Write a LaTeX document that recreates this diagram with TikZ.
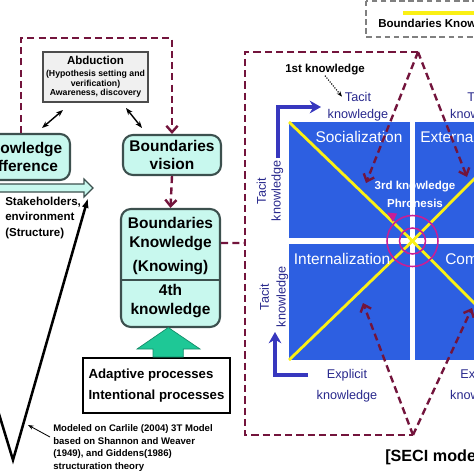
\documentclass[tikz,border=0pt]{standalone}
\usepackage{fontspec}
\setmainfont{Liberation Sans}
\usetikzlibrary{arrows.meta}
\definecolor{boxfill}{RGB}{200,248,238}
\definecolor{boxline}{RGB}{60,80,78}
\definecolor{maroon}{RGB}{115,20,60}
\definecolor{seciblue}{RGB}{45,95,225}
\definecolor{axisblue}{RGB}{55,55,190}
\definecolor{labelblue}{RGB}{40,40,140}
\definecolor{boundyellow}{RGB}{250,240,20}
\definecolor{ringpink}{RGB}{200,30,150}
\definecolor{arrowgreen}{RGB}{30,200,150}
\definecolor{abdfill}{RGB}{240,240,240}
\newcommand{\fsz}[2]{\fontsize{#1}{#2}\selectfont}

\begin{document}
\begin{tikzpicture}[x=0.025cm, y=-0.025cm,
	kbox/.style={draw=boxline, line width=1.5pt, fill=boxfill, rounded corners=0.25cm, inner sep=0pt, align=center, font=\bfseries\fsz{11}{12.8}},
	abdbox/.style={draw=gray!60!black, line width=1.1pt, fill=abdfill, inner sep=0pt, align=center, font=\bfseries\fsz{6.2}{6.9}},
	mdash/.style={draw=maroon, line width=1.7pt, dash pattern=on 5pt off 3pt},
	mtip/.style={-{Straight Barb[length=4.5pt,width=8pt]}},
	axis/.style={draw=axisblue, line width=2.8pt, -{Stealth[length=8pt,width=9pt]}},
	axislabel/.style={text=labelblue, font=\fsz{9}{12}, align=center, inner sep=0pt},
	quadlabel/.style={text=white, font=\fsz{11}{13}, inner sep=0pt},
	bktext/.style={font=\bfseries\fsz{11}{13.5}, align=center, inner sep=0pt}]
			%%%%% START %%%%%
			
			\useasboundingbox (0,0) rectangle (474,474);
			\clip (0,0) rectangle (474,474);
			
			\draw[draw=gray, line width=1.2pt, dash pattern=on 4pt off 2.5pt] (366,0.8) rectangle (500,37);
			\draw[boundyellow, line width=2.2pt] (403,13) -- (480,13);
			\node[anchor=west, font=\bfseries\fsz{8.2}{9}, inner sep=0pt] (legend) at (378,25) {Boundaries Knowledge};
			
			\fill[seciblue] (289,122) rectangle (410,238);
			\fill[seciblue] (415,122) rectangle (480,238);
			\fill[seciblue] (289,244) rectangle (410,360);
			\fill[seciblue] (415,244) rectangle (480,360);
			
			\coordinate (mid) at (412.5,241);
			\draw[boundyellow, line width=2pt] (289,122) -- (mid) -- (289,360);
			\draw[boundyellow, line width=2pt] (480,173) -- (mid) -- (480,309);
			\draw[ringpink, line width=1.1pt] (mid) circle (0.6375cm);
			\draw[ringpink, line width=1.1pt] (mid) circle (0.325cm);
			\fill[ringpink] (387,212.5) -- (397,213.5) -- (393,222) -- cycle;
			
			\node[quadlabel] (soc) at (359,137) {Socialization};
			\node[quadlabel, anchor=west] (ext) at (420,137) {Externalization};
			\node[quadlabel] (int) at (342,259) {Internalization};
			\node[quadlabel, anchor=west] (com) at (445,259) {Combination};
			\node[text=white, font=\bfseries\fsz{8.2}{12.7}, align=center, inner sep=0pt] (third) at (415,194) {3rd knowledge\\Phronesis};
			
			\draw[axis] (278,158) -- (278,107) -- (321,107);
			\draw[axis] (308,375) -- (275,375) -- (275,332);
			
			\node[axislabel] (tacita) at (358,106.5) {Tacit\\knowledge};
			\node[axislabel] (tacitb) at (480.5,106.5) {Tacit\\knowledge};
			\node[axislabel, rotate=90, font=\fsz{9}{10.6}] (tacitc) at (270,191) {Tacit\\knowledge};
			\node[axislabel, rotate=90] (tacitd) at (274,297) {Tacit\\knowledge};
			\node[axislabel, font=\fsz{9}{15}] (expa) at (347,385.5) {Explicit\\knowledge};
			\node[axislabel, font=\fsz{9}{15}] (expb) at (480.5,385.5) {Explicit\\knowledge};
			
			\node[font=\bfseries\fsz{8.2}{10}, inner sep=0pt] (first) at (325,70) {1st knowledge};
			\draw[densely dotted, line width=0.8pt, -{Stealth[length=4pt]}] (first.south) -- ([xshift=-0.4cm,yshift=-0.12cm]tacita.north);
			
			\node[anchor=west, font=\bfseries\fsz{11.5}{13}, inner sep=0pt] (seci) at (385,457) {[SECI model]};
			
			\coordinate (ftop) at (418,52);
			\coordinate (fbot) at (413,435);
			\coordinate (fjoin) at (245,243);
			\draw[mdash] (ftop) -- (245,52) -- (245,435) -- (fbot);
			\draw[mdash, mtip] (ftop) -- (366,183);
			\draw[mdash, mtip] (ftop) -- (467,177);
			\draw[mdash, mtip] (fbot) -- (363,303);
			\draw[mdash, mtip] (fbot) -- (472,308);
			
			\node[abdbox, minimum width=2.625cm, minimum height=1.25cm] (abd) at (95.5,77) {{\fsz{8.2}{10}Abduction}\\[1.6pt](Hypothesis setting and\\verification)\\Awareness, discovery};
			
			\node[kbox, minimum width=2.45cm, minimum height=1.15cm] (diff) at (21,157) {Knowledge\\difference};
			\node[kbox, minimum width=2.45cm, minimum height=1.0cm] (vis) at (172,155) {Boundaries\\vision};
			\node[kbox, minimum width=2.475cm, minimum height=2.95cm] (bk) at (170.5,268) {};
			\draw[boxline, line width=1.2pt] (121,280) -- (220,280);
			\node[bktext] (bkname) at (170.5,234) {Boundaries\\Knowledge};
			\node[bktext] (knowing) at (170.5,268) {(Knowing)};
			\node[bktext] (fourth) at (170.5,301) {4th\\knowledge};
			
			\coordinate (ctop) at (100,38);
			\draw[mdash, mtip] (diff.north) |- (ctop) -| (vis.north);
			\draw[mdash, mtip] (vis.south) -- (bk.north);
			\draw[mdash] ([yshift=0.625cm]bk.east) -- (fjoin);
			
			\draw[line width=1pt, {Stealth[length=5pt]}-{Stealth[length=5pt]}] (42,128) -- (63,110);
			\draw[line width=1pt, {Stealth[length=5pt]}-{Stealth[length=5pt]}] (126,108) -- (142,128);
			
			\draw[boxline, line width=0.8pt, fill=boxfill] (-5,184) -- (84,184) -- (84,179) -- (93,188) -- (84,197) -- (84,192) -- (-5,192) -- cycle;
			\node[anchor=west, align=left, font=\bfseries\fsz{8.2}{11}, inner sep=0pt] (stake) at (5,218) {Stakeholders,\\environment\\(Structure)};
			
			\coordinate (vtip) at (88,198);
			\draw[line width=1.8pt, -{Latex[length=7pt,width=5pt]}] (-22,345) -- (13,460) -- (vtip);
			
			\node[anchor=west, align=left, font=\bfseries\fsz{6.8}{9}, inner sep=0pt] (model) at (53,448) {Modeled on Carlile (2004) 3T Model\\based on Shannon and Weaver\\(1949), and Giddens(1986)\\structuration theory};
			\coordinate (vpoint) at (28,425);
			\draw[line width=0.6pt, -{Stealth[length=4pt]}] ([xshift=-0.075cm,yshift=0.275cm]model.west) -- (vpoint);
			
			\node[draw=black, line width=1.8pt, fill=white, minimum width=3.675cm, minimum height=1.375cm, align=left, font=\bfseries\fsz{9.4}{14.9}, inner sep=0pt] (adp) at (156.5,385.5) {Adaptive processes\\Intentional processes};
			\draw[draw=arrowgreen!70!black, line width=0.5pt, fill=arrowgreen] (153,357) -- (153,349) -- (137,349) -- (168.3,327.5) -- (200,349) -- (183.3,349) -- (183.3,357) -- cycle;
			
			%%%%% END %%%%%
		\end{tikzpicture}
\end{document}
